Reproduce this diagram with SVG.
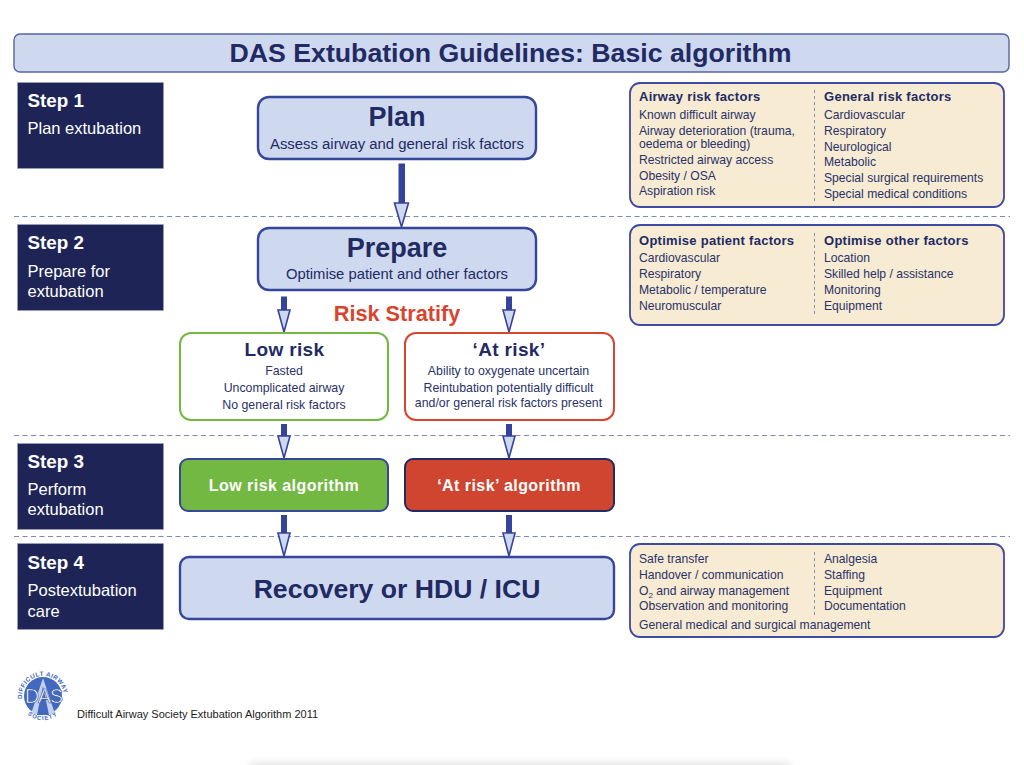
<svg xmlns="http://www.w3.org/2000/svg" width="1024" height="765" viewBox="0 0 1024 765">
<style>
text{font-family:"Liberation Sans",Arial,sans-serif}
.blue{fill:#ced8ef;stroke:#36469a;stroke-width:2.4}
.cream{fill:#f7ebd3;stroke:#3d4b9e;stroke-width:1.8}
.step{fill:#1e2556;stroke:#9ea4c4;stroke-width:.6}
.sh{fill:#fff;font-size:18.800px;font-weight:bold}
.st{fill:#fff;font-size:16.500px}
.ink{fill:#222a63}
.f{fill:#2a3268;font-size:12.150px}
.fb{fill:#222a63;font-size:13px;font-weight:bold;letter-spacing:.27px}
.c{text-anchor:middle}
.dash{stroke:#8087bb;stroke-width:1;stroke-dasharray:5 3.5;fill:none}
.div{stroke:#8b90a8;stroke-width:1;stroke-dasharray:3 3;fill:none}
.shaft{fill:#36439a}
.head{fill:#ced8ef;stroke:#36439a;stroke-width:1.6}
.r{fill:#2a3268;font-size:12.350px}
.w{fill:#fff;font-size:16px;font-weight:bold;letter-spacing:.45px}
.h3{font-size:19px;font-weight:bold;letter-spacing:.35px}
</style>
<defs>
<filter id="bl" x="-10%" y="-200%" width="120%" height="500%"><feGaussianBlur stdDeviation="5"/></filter>
<path id="arcT" d="M 22.100 699 A 21 21 0 1 1 63.900 699"/>
<path id="arcB" d="M 25.500 712.500 A 24 24 0 0 0 60.500 712.500"/>
</defs>
<rect x="250" y="764" width="540" height="10" fill="#dcdcdc" filter="url(#bl)"/>
<g id="connectors">
<path class="dash" d="M14 216.500H1010M14 435.500H1010M14 536.500H1010"/>
<g id="a1"><rect class="shaft" x="398.500" y="163.500" width="6.500" height="40"/><path class="head" d="M394.500 203H408.500L401.500 227Z"/></g>
<g id="a2"><rect class="shaft" x="281" y="296.500" width="6" height="14"/><path class="head" d="M278 310H290L284 332Z"/></g>
<g id="a3"><rect class="shaft" x="506" y="296.500" width="6" height="14"/><path class="head" d="M503 310H515L509 332Z"/></g>
<g id="a4"><rect class="shaft" x="281" y="424" width="6" height="14"/><path class="head" d="M278 436H290L284 458Z"/></g>
<g id="a5"><rect class="shaft" x="506" y="424" width="6" height="14"/><path class="head" d="M503 436H515L509 458Z"/></g>
<g id="a6"><rect class="shaft" x="281" y="515" width="6" height="18"/><path class="head" d="M278 533H290L284 556Z"/></g>
<g id="a7"><rect class="shaft" x="506" y="515" width="6" height="18"/><path class="head" d="M503 533H515L509 556Z"/></g>
</g>
<g id="title"><rect x="14" y="34" width="995" height="38" rx="6" fill="#ced8ef" stroke="#5a659f" stroke-width="1.4"/>
<text x="510.500" y="62" class="c ink" font-size="26.700" font-weight="bold">DAS Extubation Guidelines: Basic algorithm</text></g>
<g id="step1"><rect class="step" x="17.500" y="82.500" width="146" height="86"/><text class="sh" x="27.500" y="107">Step 1</text><text class="st" x="27.500" y="134">Plan extubation</text></g>
<g id="step2"><rect class="step" x="17.500" y="224.500" width="146" height="86"/><text class="sh" x="27.500" y="249">Step 2</text><text class="st" x="27.500" y="277">Prepare for</text><text class="st" x="27.500" y="297">extubation</text></g>
<g id="step3"><rect class="step" x="17.500" y="443.500" width="146" height="86"/><text class="sh" x="27.500" y="468">Step 3</text><text class="st" x="27.500" y="495">Perform</text><text class="st" x="27.500" y="515">extubation</text></g>
<g id="step4"><rect class="step" x="17.500" y="543.500" width="146" height="86"/><text class="sh" x="27.500" y="569">Step 4</text><text class="st" x="27.500" y="596">Postextubation</text><text class="st" x="27.500" y="617">care</text></g>
<g id="plan"><rect class="blue" x="258" y="97" width="278" height="62" rx="11"/><text class="c ink" x="397" y="126" font-size="27" font-weight="bold">Plan</text><text class="c ink" x="397" y="149" font-size="14.900">Assess airway and general risk factors</text></g>
<g id="prepare"><rect class="blue" x="258" y="228" width="278" height="62" rx="11"/><text class="c ink" x="397" y="257" font-size="27" font-weight="bold">Prepare</text><text class="c ink" x="397" y="279" font-size="14.800">Optimise patient and other factors</text></g>
<text id="risk" class="c" x="397" y="321" fill="#d8452e" font-size="21.700" font-weight="bold">Risk Stratify</text>
<g id="low"><rect x="180" y="333" width="208" height="87" rx="11" fill="#fff" stroke="#72b843" stroke-width="2"/><text class="c ink h3" x="284.500" y="356">Low risk</text><text class="c r" x="284" y="375">Fasted</text><text class="c r" x="284" y="392">Uncomplicated airway</text><text class="c r" x="284" y="409">No general risk factors</text></g>
<g id="atrisk"><rect x="405" y="333" width="209" height="87" rx="11" fill="#fff" stroke="#d8452e" stroke-width="2"/><text class="c ink h3" x="509" y="356">‘At risk’</text><text class="c r" x="508.500" y="375">Ability to oxygenate uncertain</text><text class="c r" x="508.500" y="392">Reintubation potentially difficult</text><text class="c r" x="508.500" y="407">and/or general risk factors present</text></g>
<g id="lowalg"><rect x="180" y="459" width="208" height="52" rx="8" fill="#72b843" stroke="#36469a" stroke-width="2"/><text class="c w" x="284" y="491">Low risk algorithm</text></g>
<g id="atalg"><rect x="405" y="459" width="209" height="52" rx="8" fill="#d0452f" stroke="#222a63" stroke-width="2"/><text class="c w" x="509" y="491">‘At risk’ algorithm</text></g>
<g id="recovery"><rect class="blue" x="180" y="557" width="434" height="62" rx="9"/><text class="c ink" x="397" y="598" font-size="26.600" font-weight="bold">Recovery or HDU / ICU</text></g>
<g id="riskfactors"><rect class="cream" x="630" y="83" width="374" height="124" rx="10"/>
<path class="div" d="M814.500 90V203"/>
<text class="fb" x="639" y="101">Airway risk factors</text><text class="f" x="639" y="118.500">Known difficult airway</text><text class="f" x="639" y="135">Airway deterioration (trauma,</text><text class="f" x="639" y="148">oedema or bleeding)</text><text class="f" x="639" y="164">Restricted airway access</text><text class="f" x="639" y="180">Obesity / OSA</text><text class="f" x="639" y="195">Aspiration risk</text>
<text class="fb" x="824" y="101">General risk factors</text><text class="f" x="824" y="118.500">Cardiovascular</text><text class="f" x="824" y="135">Respiratory</text><text class="f" x="824" y="151">Neurological</text><text class="f" x="824" y="166">Metabolic</text><text class="f" x="824" y="182">Special surgical requirements</text><text class="f" x="824" y="198">Special medical conditions</text></g>
<g id="optimise"><rect class="cream" x="630" y="225" width="374" height="100" rx="10"/>
<path class="div" d="M814.500 233V317"/>
<text class="fb" x="639" y="245">Optimise patient factors</text><text class="f" x="639" y="262">Cardiovascular</text><text class="f" x="639" y="278">Respiratory</text><text class="f" x="639" y="294">Metabolic / temperature</text><text class="f" x="639" y="310">Neuromuscular</text>
<text class="fb" x="824" y="245">Optimise other factors</text><text class="f" x="824" y="262">Location</text><text class="f" x="824" y="278">Skilled help / assistance</text><text class="f" x="824" y="294">Monitoring</text><text class="f" x="824" y="310">Equipment</text></g>
<g id="care"><rect class="cream" x="630" y="544" width="374" height="93" rx="10"/>
<path class="div" d="M814.500 552V616"/>
<text class="f" x="639" y="563">Safe transfer</text><text class="f" x="639" y="579">Handover / communication</text><text class="f" x="639" y="595">O<tspan font-size="8" dy="3">2</tspan><tspan dy="-3"> and airway management</tspan></text><text class="f" x="639" y="610">Observation and monitoring</text><text class="f" x="639" y="629">General medical and surgical management</text>
<text class="f" x="824" y="563">Analgesia</text><text class="f" x="824" y="579">Staffing</text><text class="f" x="824" y="595">Equipment</text><text class="f" x="824" y="610">Documentation</text></g>
<g id="logo">
<circle cx="43" cy="696" r="19" fill="#4169bd"/>
<path d="M43 678L31 714H55Z" fill="#c4d2ee"/><path d="M43 686L37 715H49Z" fill="#4169bd"/>
<text x="44" y="703" class="c" fill="#fff" stroke="#2f4f9f" stroke-width=".6" font-size="19.500" textLength="38" lengthAdjust="spacing">DAS</text>
<text fill="#4169bd" font-size="6.200" font-weight="bold" letter-spacing=".45"><textPath href="#arcT">DIFFICULT AIRWAY</textPath></text>
<text fill="#4169bd" font-size="5.800" font-weight="bold" letter-spacing="1"><textPath href="#arcB" startOffset="3">SOCIETY</textPath></text>
</g>
<text id="credit" x="77" y="718" fill="#222" font-size="11">Difficult Airway Society Extubation Algorithm 2011</text>
</svg>
